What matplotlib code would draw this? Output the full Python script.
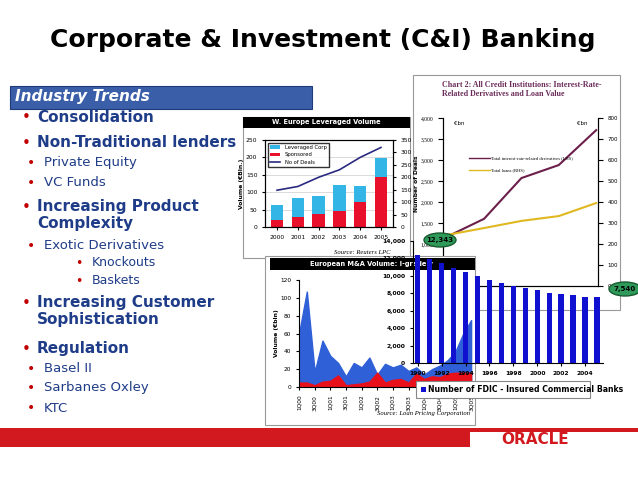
import matplotlib
matplotlib.use("Agg")
import matplotlib.pyplot as plt
from matplotlib.patches import Rectangle, Ellipse
import numpy as np

W, H = 638, 478
# --- data ---
lev_years = ["2000", "2001", "2002", "2003", "2004", "2005"]
lev_sponsored = [20, 28, 38, 47, 72, 143]
lev_total = [63, 82, 88, 122, 118, 197]
lev_deals = [148, 163, 200, 230, 280, 320]

ci_x = [0, 1, 2, 3, 4]
ci_derivs = [1170, 1600, 2570, 2880, 3710]
ci_loans = [243, 276, 310, 333, 395]

ma_quarters = ["1Q00", "3Q00", "1Q01", "3Q01", "1Q02", "3Q02", "1Q03", "3Q03", "1Q04", "3Q04", "1Q05", "3Q05"]
ma_total = [60, 107, 17, 52, 35, 27, 12, 27, 22, 33, 14, 26, 22, 25, 18, 22, 14, 20, 24, 30, 40, 60, 75]
ma_red = [5, 5, 2, 6, 7, 13, 2, 3, 4, 6, 16, 5, 8, 9, 5, 15, 9, 12, 11, 15, 16, 16, 16]

bank_years = list(range(1990, 2006))
bank_counts = [12343, 11900, 11450, 10950, 10450, 9950, 9530, 9140, 8780, 8580, 8320, 8080, 7890, 7770, 7630, 7540]

fig = plt.figure(figsize=(6.38, 4.78), dpi=100)

def rect(x0, y0, x1, y1):
    return [x0 / W, 1 - y1 / H, (x1 - x0) / W, (y1 - y0) / H]

def frect(x0, y0, x1, y1, z, fc="white", ec="none", lw=0.8):
    r = Rectangle((x0 / W, 1 - y1 / H), (x1 - x0) / W, (y1 - y0) / H, transform=fig.transFigure,
                  fc=fc, ec=ec, lw=lw, zorder=z)
    fig.add_artist(r)

def ftext(x, y, s, z=20, **kw):
    fig.text(x / W, 1 - y / H, s, zorder=z, **kw)

# Title
ftext(323, 40, "Corporate & Investment (C&I) Banking", ha="center", va="center", fontsize=18, fontweight="bold")
# Industry trends box
frect(10, 86, 312, 109, 2, fc="#3a5fa8", ec="#1e3a78")
ftext(15, 97, "Industry Trends", ha="left", va="center", fontsize=11, fontweight="bold", style="italic", color="white")

blue = "#1f3c88"
bul = [
    (1, 118, "Consolidation"), (1, 144, "Non-Traditional lenders"), (2, 163, "Private Equity"), (2, 183, "VC Funds"),
    (1, 208, "Increasing Product\nComplexity"), (2, 246, "Exotic Derivatives"), (3, 263, "Knockouts"), (3, 281, "Baskets"),
    (1, 304, "Increasing Customer\nSophistication"), (1, 349, "Regulation"), (2, 369, "Basel II"), (2, 388, "Sarbanes Oxley"), (2, 408, "KTC"),
]
for lvl, y, s in bul:
    if lvl == 1:
        ftext(22, y, "•", ha="left", va="center", fontsize=11, color="#c00000")
        if "\n" in s:
            ftext(37, y - 9, s, ha="left", va="top", fontsize=11, fontweight="bold", color=blue, linespacing=1.2)
        else:
            ftext(37, y - 1, s, ha="left", va="center", fontsize=11, fontweight="bold", color=blue)
    elif lvl == 2:
        ftext(27, y, "•", ha="left", va="center", fontsize=10, color="#c00000")
        ftext(44, y, s, ha="left", va="center", fontsize=9.5, color=blue)
    else:
        ftext(75, y, "•", ha="left", va="center", fontsize=9, color="#c00000")
        ftext(92, y, s, ha="left", va="center", fontsize=9, color=blue)

# Bottom band
frect(0, 428, 638, 447, 1, fc="#d2191f")
frect(470, 432, 638, 450, 1.5, fc="white")
ftext(535, 439, "ORACLE", ha="center", va="center", fontsize=11, fontweight="bold", color="#d2191f")

# ---- Chart 2 (credit institutions), back ----
frect(413, 75, 620, 310, 3, fc="white", ec="#999999")
ftext(442, 81, "Chart 2: All Credit Institutions: Interest-Rate-\nRelated Derivatives and Loan Value", ha="left", va="top",
      fontsize=5.8, fontweight="bold", color="#6b2c5a", family="Liberation Serif")
ax2 = fig.add_axes(rect(443, 118, 598, 286), zorder=3.1)
ax2.patch.set_alpha(0)
ax2.plot(ci_x, ci_derivs, color="#6b1f4a", lw=1.5)
ax2.set_ylim(0, 4000)
ax2.set_xlim(-0.1, 4.05)
ax2.set_yticks(range(0, 4001, 500))
ax2.set_yticklabels([f"{v:,}" for v in range(0, 4001, 500)], fontsize=4, family="Liberation Serif")
ax2.set_xticks([])
ax2r = ax2.twinx()
ax2r.plot(ci_x, ci_loans, color="#e0b820", lw=1.5)
ax2r.set_ylim(0, 800)
ax2r.set_yticks(range(0, 801, 100))
ax2r.tick_params(labelsize=4)
for a in (ax2, ax2r):
    a.spines["top"].set_visible(False)
ax2.text(0.07, 0.98, "€bn", transform=ax2.transAxes, fontsize=4, va="top")
ax2.text(0.93, 0.98, "€bn", transform=ax2.transAxes, fontsize=4, va="top", ha="right")
ax2.plot([0.17, 0.3], [0.76, 0.76], transform=ax2.transAxes, color="#6b1f4a", lw=1, clip_on=False, zorder=10)
ax2.text(0.31, 0.76, "Total interest-rate-related derivatives (LHS)", transform=ax2.transAxes, fontsize=3.3, va="center", zorder=10, family="Liberation Serif")
ax2.plot([0.17, 0.3], [0.69, 0.69], transform=ax2.transAxes, color="#e0b820", lw=1, clip_on=False, zorder=10)
ax2.text(0.31, 0.69, "Total loans (RHS)", transform=ax2.transAxes, fontsize=3.3, va="center", zorder=10, family="Liberation Serif")

# ---- Chart 1: W. Europe leveraged volume ----
frect(243, 117, 410, 258, 4, fc="white", ec="#999999")
frect(243, 117, 410, 128, 4.05, fc="black")
ftext(326, 122.5, "W. Europe Leveraged Volume", ha="center", va="center", fontsize=4.8, fontweight="bold", color="white", z=4.2)
ax1 = fig.add_axes(rect(265, 140, 393, 227), zorder=4.1)
x = np.arange(len(lev_years))
ax1.bar(x, lev_total, width=0.6, color="#33b5e5", label="Leveraged Corp")
ax1.bar(x, lev_sponsored, width=0.6, color="#e8102a", label="Sponsored")
ax1.set_ylim(0, 250)
ax1.set_yticks(range(0, 251, 50))
ax1.set_xticks(x)
ax1.set_xticklabels(lev_years)
ax1.tick_params(labelsize=4.3, length=2)
ax1.set_ylabel("Volume (€Bln.)", fontsize=4.3, fontweight="bold", labelpad=1)
ax1.yaxis.grid(True, color="#cccccc", lw=0.5)
ax1.set_axisbelow(True)
ax1r = ax1.twinx()
ax1r.plot(x, lev_deals, color="#2a2a80", lw=1.2, label="No of Deals")
ax1r.set_ylim(0, 350)
ax1r.set_yticks(range(0, 351, 50))
ax1r.tick_params(labelsize=4.3, length=2)
ax1r.set_ylabel("Number of Deals", fontsize=4.3, fontweight="bold", labelpad=1)
h1, l1 = ax1.get_legend_handles_labels()
h2, l2 = ax1r.get_legend_handles_labels()
ax1r.legend(h1 + h2, l1 + l2, loc="upper left", fontsize=3.8, frameon=True, fancybox=False, edgecolor="black")
ftext(390, 252, "Source: Reuters LPC", ha="right", va="center", fontsize=4.8, style="italic", family="Liberation Serif", z=4.2)

# ---- M&A chart ----
frect(265, 256, 475, 425, 5, fc="white", ec="#999999")
frect(270, 258, 475, 270, 5.05, fc="black")
ftext(310, 264, "European M&A Volume: I-grade v", ha="left", va="center", fontsize=4.8, fontweight="bold", color="white", z=5.2)
ax3 = fig.add_axes(rect(299, 280, 475, 387), zorder=5.1)
q = np.arange(len(ma_total))
ax3.fill_between(q, 0, ma_total, color="#3060d8")
ax3.fill_between(q, 0, ma_red, color="#e8101a")
ax3.set_ylim(0, 120)
ax3.set_xlim(0, 22.5)
ax3.set_yticks(range(0, 121, 20))
ax3.set_xticks(np.arange(0, 24, 2))
ax3.set_xticklabels(ma_quarters, rotation=90)
ax3.tick_params(labelsize=4.2, length=2)
ax3.set_ylabel("Volume (€bln)", fontsize=4.3, fontweight="bold", labelpad=1)
for s in ("top", "right"):
    ax3.spines[s].set_visible(False)
ftext(470, 414, "Source: Loan Pricing Corporation", ha="right", va="center", fontsize=4.8, style="italic", family="Liberation Serif", z=5.2)

# ---- Banks chart ----
ax4 = fig.add_axes(rect(413, 241, 603, 363), zorder=6)
ax4.patch.set_alpha(0)
ax4.bar(bank_years, bank_counts, width=0.45, color="#1010d0")
ax4.set_ylim(0, 14000)
ax4.set_xlim(1989.6, 2005.5)
ax4.set_yticks(range(0, 14001, 2000))
ax4.set_yticklabels([f"{v:,}" for v in range(0, 14001, 2000)])
ax4.set_xticks(range(1990, 2005, 2))
ax4.tick_params(labelsize=4.3, length=2)
for lab in ax4.get_xticklabels() + ax4.get_yticklabels():
    lab.set_fontweight("bold")
for s in ("top", "right"):
    ax4.spines[s].set_visible(False)
frect(416, 381, 590, 398, 6.1, fc="white", ec="#888888")
frect(421, 387, 426, 392, 6.2, fc="#1010d0")
ftext(428, 389.5, "Number of FDIC - Insured Commercial Banks", ha="left", va="center", fontsize=5.6, fontweight="bold", z=6.3)

for (cx, cy, s) in [(440, 240, "12,343"), (625, 289, "7,540")]:
    e = Ellipse((cx / W, 1 - cy / H), 32 / W, 14 / H, transform=fig.transFigure, fc="#2e9a5a", ec="#1a5a30", zorder=7)
    fig.add_artist(e)
    ftext(cx, cy, s, ha="center", va="center", fontsize=5, fontweight="bold", z=7.1)

fig.savefig("out.png", dpi=100)
